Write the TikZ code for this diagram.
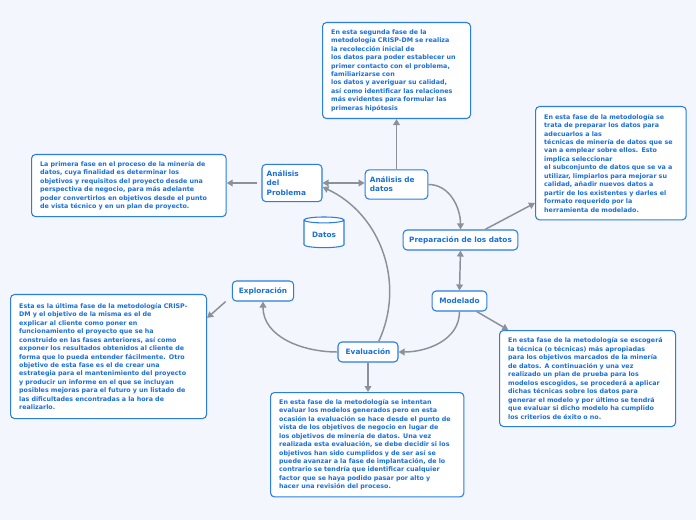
\documentclass[tikz,border=0pt]{standalone}
\usepackage{fontspec}
\setmainfont{DejaVu Sans}
\usetikzlibrary{shapes.geometric,arrows.meta}
\definecolor{bg}{HTML}{F3F6FD}
\definecolor{bcol}{HTML}{2A7DE1}
\definecolor{tcol}{HTML}{1A6FD8}
\definecolor{lcol}{HTML}{8C9099}
\newcommand{\smalltxt}{\bfseries\fontsize{4.75}{6.35}\selectfont}
\newcommand{\nodetxt}{\bfseries\fontsize{5.5}{6.9}\selectfont}
\tikzset{
 box/.style={draw=bcol, fill=white, rounded corners=3pt, line width=0.8pt, align=left, anchor=north west, inner xsep=6.5pt, inner ysep=5pt, text=tcol, font=\smalltxt},
 topic/.style={draw=bcol, fill=white, rounded corners=3pt, line width=0.8pt, align=left, text=tcol, font=\nodetxt, inner sep=2pt},
 conn/.style={draw=lcol, line width=1.1pt, -{Triangle[length=4.5pt,width=5pt]}},
 dconn/.style={draw=lcol, line width=1.1pt, {Triangle[length=4.5pt,width=5pt]}-{Triangle[length=4.5pt,width=5pt]}}
}
\begin{document}
\begin{tikzpicture}[x=0.75pt,y=-0.75pt]
\useasboundingbox[fill=bg] (0,0) rectangle (696,520);
% detail boxes
\node[box, text width=98pt, minimum height=72pt] (t1) at (322,22) {En esta segunda fase de la\\metodología CRISP-DM se realiza\\la recolección inicial de\\los datos para poder establecer un\\primer contacto con el problema,\\familiarizarse con\\los datos y averiguar su calidad,\\así como identificar las relaciones\\más evidentes para formular las\\primeras hipótesis};
\node[box, text width=100pt, minimum height=85pt] (t2) at (535,106) {En esta fase de la metodología se\\trata de preparar los datos para\\adecuarlos a las\\técnicas de minería de datos que se\\van a emplear sobre ellos. Esto\\implica seleccionar\\el subconjunto de datos que se va a\\utilizar, limpiarlos para mejorar su\\calidad, añadir nuevos datos a\\partir de los existentes y darles el\\formato requerido por la\\herramienta de modelado.};
\node[box, text width=133pt, minimum height=46pt] (t3) at (31,154) {La primera fase en el proceso de la minería de\\datos, cuya finalidad es determinar los\\objetivos y requisitos del proyecto desde una\\perspectiva de negocio, para más adelante\\poder convertirlos en objetivos desde el punto\\de vista técnico y en un plan de proyecto.};
\node[box, text width=134pt, minimum height=93pt] (t4) at (10,294) {Esta es la última fase de la metodología CRISP-\\DM y el objetivo de la misma es el de\\explicar al cliente como poner en\\funcionamiento el proyecto que se ha\\construido en las fases anteriores, así como\\exponer los resultados obtenidos al cliente de\\forma que lo pueda entender fácilmente. Otro\\objetivo de esta fase es el de crear una\\estrategia para el mantenimiento del proyecto\\y producir un informe en el que se incluyan\\posibles mejoras para el futuro y un listado de\\las dificultades encontradas a la hora de\\realizarlo.};
\node[box, text width=132pt, minimum height=78pt] (t5) at (270,392) {En esta fase de la metodología se intentan\\evaluar los modelos generados pero en esta\\ocasión la evaluación se hace desde el punto de\\vista de los objetivos de negocio en lugar de\\los objetivos de minería de datos. Una vez\\realizada esta evaluación, se debe decidir si los\\objetivos han sido cumplidos y de ser así se\\puede avanzar a la fase de implantación, de lo\\contrario se tendría que identificar cualquier\\factor que se haya podido pasar por alto y\\hacer una revisión del proceso.};
\node[box, text width=119pt, minimum height=72pt] (t6) at (499,330) {En esta fase de la metodología se escogerá\\la técnica (o técnicas) más apropiadas\\para los objetivos marcados de la minería\\de datos. A continuación y una vez\\realizado un plan de prueba para los\\modelos escogidos, se procederá a aplicar\\dichas técnicas sobre los datos para\\generar el modelo y por último se tendrá\\que evaluar si dicho modelo ha cumplido\\los criterios de éxito o no.};
% topic nodes
\node[topic, minimum width=45pt, minimum height=28pt, text width=38pt] (ap) at (292,183) {Análisis\\del\\Problema};
\node[topic, minimum width=47pt, minimum height=22pt, text width=40pt] (ad) at (396.5,184.5) {Análisis de\\datos};
\node[topic, minimum width=86pt, minimum height=15pt, align=center] (pd) at (460.5,240) {Preparación de los datos};
\node[topic, minimum width=46pt, minimum height=15pt, align=center] (ex) at (263,291) {Exploración};
\node[topic, minimum width=41pt, minimum height=15pt, align=center] (mo) at (459.5,301) {Modelado};
\node[topic, minimum width=45pt, minimum height=15pt, align=center] (ev) at (368,352) {Evaluación};
\node[draw=bcol, fill=white, line width=0.8pt, cylinder, shape border rotate=90, aspect=0.18, minimum width=30pt, minimum height=23pt, text=tcol, font=\nodetxt] (da) at (324,235) {Datos};
% connectors
\draw[conn] (ap.west) ++(-4,0) -- (t3.east |- ap.west);
\draw[dconn] (ap.east) -- (ad.west |- ap.east);
\draw[conn] (ad.north) -- (ad.north |- t1.south);
\draw[conn] (ad.east) to[out=0,in=90] (pd.north);
\draw[conn] ([xshift=2pt]pd.north east) ++(-36,0) coordinate (p1) -- (t2.west |- 0,203);
\draw[dconn] (pd.south) -- (mo.north);
\draw[conn] ([xshift=-8pt]mo.south east) -- ([xshift=7pt]t6.north west);
\draw[conn] (mo.south) to[out=-90,in=0] (ev.east);
\draw[conn] ([xshift=8pt]ev.north) to[out=65,in=-25] ([yshift=-3pt]ap.east);
\draw[conn] (ev.west) to[out=180,in=-90] (ex.south);
\draw[conn] ([xshift=-28pt]ex.south) -- (t4.east |- 0,318);
\draw[conn] (ev.south) -- (t5.north -| ev.south);
\end{tikzpicture}
\end{document}
